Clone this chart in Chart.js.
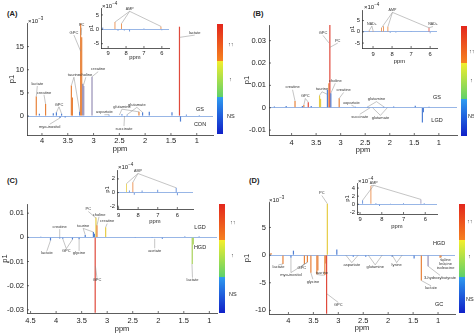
<!DOCTYPE html>
<html>
<head>
<meta charset="utf-8">
<script src="https://cdn.jsdelivr.net/npm/chart.js@4.4.1/dist/chart.umd.min.js"></script>
<style>
  body { margin: 0; width: 474px; height: 333px; background: #fff; position: relative; overflow: hidden;
         font-family: "Liberation Sans", Arial, sans-serif; color: #222; }
  canvas { position: absolute; }
  .tag { position: absolute; font-weight: bold; font-size: 7.5px; line-height: 1; }
  .exp { position: absolute; font-size: 6px; line-height: 1; }
  .exp sup { font-size: 4.5px; }
  .grp { position: absolute; font-size: 5.5px; line-height: 1; transform: translate(-50%, -50%); }
  .cbar { position: absolute; width: 6px;
          background: linear-gradient(to bottom, #e3261c 0%, #f6821f 33.3%, #f4ee2c 33.3%, #5fd06a 66.6%, #2f9cf0 66.6%, #1020c8 100%); }
  .cl { position: absolute; font-size: 5.5px; line-height: 1; transform: translateY(-50%); }
</style>
</head>
<body>
<div class="tag" style="left:7px;top:10px">(A)</div>
<div class="tag" style="left:253px;top:10px">(B)</div>
<div class="tag" style="left:7px;top:177px">(C)</div>
<div class="tag" style="left:249px;top:177px">(D)</div>

<canvas id="mainA"></canvas>
<canvas id="mainB"></canvas>
<canvas id="mainC"></canvas>
<canvas id="mainD"></canvas>
<canvas id="insetA"></canvas>
<canvas id="insetB"></canvas>
<canvas id="insetC"></canvas>
<canvas id="insetD"></canvas>

<div class="exp" style="left:28px;top:17px">×10<sup>−3</sup></div>
<div class="exp" style="left:102px;top:2px">×10<sup>−4</sup></div>
<div class="exp" style="left:364px;top:3px">×10<sup>−4</sup></div>
<div class="exp" style="left:118px;top:163px">×10<sup>−4</sup></div>
<div class="exp" style="left:269px;top:196px">×10<sup>−3</sup></div>
<div class="exp" style="left:358px;top:177px">×10<sup>−4</sup></div>

<div class="grp" style="left:200px;top:110px">GS</div>
<div class="grp" style="left:200px;top:125px">CON</div>
<div class="grp" style="left:437px;top:98px">GS</div>
<div class="grp" style="left:437px;top:121px">LGD</div>
<div class="grp" style="left:200px;top:228px">LGD</div>
<div class="grp" style="left:200px;top:248px">HGD</div>
<div class="grp" style="left:439px;top:244px">HGD</div>
<div class="grp" style="left:439px;top:305px">GC</div>

<div class="cbar" style="left:217px;top:24px;height:110px"></div>
<div class="cl" style="left:228px;top:45px">↑↑</div>
<div class="cl" style="left:229px;top:80px">↑</div>
<div class="cl" style="left:227px;top:117px">NS</div>
<div class="cbar" style="left:461px;top:26px;height:110px"></div>
<div class="cl" style="left:469px;top:52px">↑↑</div>
<div class="cl" style="left:470px;top:81px">↑</div>
<div class="cl" style="left:468px;top:117px">NS</div>
<div class="cbar" style="left:219px;top:204px;height:109px"></div>
<div class="cl" style="left:230px;top:223px">↑↑</div>
<div class="cl" style="left:231px;top:256px">↑</div>
<div class="cl" style="left:229px;top:295px">NS</div>
<div class="cbar" style="left:459px;top:204px;height:109px"></div>
<div class="cl" style="left:467px;top:222px">↑↑</div>
<div class="cl" style="left:468px;top:257px">↑</div>
<div class="cl" style="left:466px;top:300px">NS</div>

<script>
// colour class of each peak: r/o = ↑↑, y/g = ↑, b = NS, p = greyish
const COLORS = { r: "#e04a3c", o: "#e8823a", y: "#e6cc45", g: "#a9d25a", b: "#4f7fd4", p: "#968fb6" };

// (A) GS vs CON, main spectrum (x10^-3)
const ppmA = [4.29, 4.11, 4.05, 3.93, 3.78, 3.72, 3.65, 3.62, 3.55, 3.43, 3.41, 3.27, 3.25, 3.23, 3.21, 3.19, 3.03, 2.70, 2.45, 2.35, 2.12, 2.05, 1.92, 1.48, 1.335, 1.315, 1.20, 0.95];
const valA = [0.2, 4.2, 0.5, 2.6, 0.6, 0.8, -0.4, 0.5, -0.3, 6.6, 4.0, 1.0, 20.0, 17.0, 7.0, 6.5, 8.5, 0.3, 0.4, 0.3, 0.9, 0.8, 0.9, 0.8, 19.3, -1.2, 0.3, 0.2];
const colA = ["b", "o", "b", "o", "b", "b", "b", "b", "b", "o", "o", "b", "o", "o", "p", "p", "p", "b", "b", "b", "o", "b", "b", "b", "r", "b", "b", "b"];
const xTicksA = [4, 3.5, 3, 2.5, 2, 1.5, 1];
const yTicksA = [0, 5, 10, 15];
const notesA = [
  ["lactate", 4.09, 7.0, [[4.11, 4.2]]],
  ["creatine", 3.96, 5.1, [[3.93, 2.6]]],
  ["GPC", 3.67, 2.5, [[3.72, 0.8], [3.62, 0.5]]],
  ["myo-inositol", 3.85, -2.3, [[3.65, -0.4]]],
  ["GPC", 3.38, 18, [[3.25, 14]]],
  ["PC", 3.23, 19.6, [[3.24, 17.5]]],
  ["taurine", 3.38, 8.9, [[3.43, 6.6], [3.27, 1.0]]],
  ["choline", 3.15, 8.9, [[3.2, 6.5]]],
  ["creatine", 2.91, 10.1, [[3.03, 8.5]]],
  ["aspartate", 2.79, 0.8, [[2.7, 0.3]]],
  ["glutamine", 2.45, 2.0, [[2.5, 0.2], [2.12, 0.9]]],
  ["glutamate", 2.16, 2.4, [[2.35, 0.3], [2.05, 0.8]]],
  ["succinate", 2.41, -2.7, [[2.4, 0]]],
  ["lactate", 1.04, 18, [[1.33, 17]]]
];
const ppmAi = [9.3, 8.62, 8.45, 8.25, 8.1, 7.8, 7.0, 6.05, 6.0];
const valAi = [0.6, 2.5, -0.5, 2.0, -0.4, -0.8, 0.3, 1.0, -0.3];
const colAi = ["b", "o", "b", "o", "b", "b", "b", "o", "b"];
const notesAi = [["AMP", 7.8, 7.0, [[8.62, 2.5], [8.25, 2.0], [6.05, 1.0]]]];

// (B) GS vs LGD
const ppmB = [4.35, 4.11, 3.93, 3.78, 3.75, 3.66, 3.6, 3.43, 3.41, 3.27, 3.24, 3.22, 3.20, 3.03, 2.7, 2.45, 2.12, 1.92, 1.48, 1.335, 1.315, 1.2];
const valB = [0.0005, 0.0008, 0.003, 0.0008, 0.0012, 0.0025, 0.0008, 0.0055, 0.004, 0.008, 0.011, 0.037, 0.0065, 0.0042, 0.0004, 0.0004, 0.0004, 0.0006, 0.0009, -0.0066, -0.002, 0.0004];
const colB = ["b", "b", "o", "b", "o", "r", "b", "y", "y", "b", "o", "r", "b", "o", "b", "b", "b", "b", "b", "b", "b", "b"];
const xTicksB = [4, 3.5, 3, 2.5, 2, 1.5, 1];
const yTicksB = [-0.01, 0, 0.01, 0.02, 0.03];
const notesB = [
  ["GPC", 3.36, 0.0334, [[3.24, 0.029]]],
  ["PC", 3.06, 0.030, [[3.22, 0.027]]],
  ["creatine", 3.98, 0.0091, [[3.93, 0.003]]],
  ["GPC", 3.72, 0.0052, [[3.75, 0.0012], [3.66, 0.0025]]],
  ["taurine", 3.38, 0.0082, [[3.43, 0.0055], [3.27, 0.006]]],
  ["choline", 3.11, 0.012, [[3.2, 0.0065]]],
  ["creatine", 2.94, 0.0079, [[3.03, 0.0042]]],
  ["aspartate", 2.78, 0.0022, [[2.72, 0.0005]]],
  ["glutamine", 2.27, 0.0038, [[2.45, 0.0004], [2.12, 0.0004]]],
  ["succinate", 2.61, -0.004, [[2.4, 0]]],
  ["glutamate", 2.19, -0.0045, [[2.35, 0], [2.05, 0]]]
];
const ppmBi = [9.2, 9.0, 8.55, 8.45, 8.22, 8.1, 7.8, 7.0, 6.06, 6.0];
const valBi = [0.6, 0.5, 1.8, 2.5, 2.2, -0.5, -0.4, 0.3, 1.8, -0.6];
const colBi = ["o", "o", "o", "o", "o", "b", "b", "b", "r", "b"];
const notesBi = [
  ["NAD+", 9.06, 3.5, [[9.2, 0.6], [9.0, 0.5]]],
  ["AMP", 7.98, 9.6, [[8.55, 1.8], [8.22, 2.2], [6.06, 1.8]]],
  ["NAD+", 5.85, 3.3, [[6.06, 1.8]]]
];

// (C) LGD vs HGD
const ppmC = [4.3, 4.11, 3.93, 3.87, 3.68, 3.55, 3.43, 3.27, 3.25, 3.22, 3.20, 3.235, 3.03, 2.45, 2.12, 1.92, 1.48, 1.335, 1.315, 1.2];
const valC = [0.0003, -0.0013, -0.0005, -0.0006, -0.0009, -0.0008, 0.001, 0.0022, 0.0015, 0.0082, 0.005, -0.0312, 0.0042, -0.0003, -0.0003, -0.0006, 0.0004, -0.011, -0.003, 0.0004];
const colC = ["b", "b", "b", "b", "b", "b", "b", "b", "b", "y", "o", "r", "y", "b", "b", "b", "b", "g", "g", "b"];
const xTicksC = [4.5, 4, 3.5, 3, 2.5, 2, 1.5, 1];
const yTicksC = [-0.03, -0.02, -0.01, 0, 0.01];
const notesC = [
  ["PC", 3.37, 0.0117, [[3.22, 0.008]]],
  ["choline", 3.16, 0.0095, [[3.2, 0.005]]],
  ["creatine", 3.0, 0.0067, [[3.03, 0.0042]]],
  ["taurine", 3.47, 0.0047, [[3.43, 0.001], [3.27, 0.0022]]],
  ["creatine", 3.93, 0.0044, [[3.93, 0]]],
  ["lactate", 4.18, -0.0066, [[4.11, -0.0013]]],
  ["GPC", 3.8, -0.0057, [[3.87, -0.0006], [3.68, -0.0009]]],
  ["glycine", 3.55, -0.0066, [[3.55, -0.0008]]],
  ["acetate", 2.07, -0.0055, [[2.07, -0.0006]]],
  ["GPC", 3.2, -0.0177, [[3.23, -0.012]]],
  ["lactate", 1.33, -0.0177, [[1.34, -0.011]]]
];
const ppmCi = [8.6, 8.45, 8.27, 8.2, 7.8, 7.0, 6.06, 6.0];
const valCi = [1.3, 0.3, 1.5, -0.3, 0.3, 0.4, 0.7, -0.4];
const colCi = ["y", "b", "o", "b", "b", "b", "b", "b"];
const notesCi = [["AMP", 8.01, 3.1, [[8.6, 1.3], [8.27, 1.5], [6.06, 0.7]]]];

// (D) HGD vs GC (x10^-3)
const ppmD = [4.35, 4.11, 3.95, 3.9, 3.68, 3.62, 3.55, 3.43, 3.41, 3.27, 3.25, 3.22, 3.235, 3.03, 2.7, 2.45, 1.92, 1.48, 1.335, 1.2, 0.96, 0.94];
const valD = [0.4, -1.6, -0.5, 0.8, -1.6, -1.3, -3.2, -3.5, -2.8, -3.6, -1.5, 9.3, -10.6, 1.0, -0.3, -0.3, -0.3, -0.6, -4.6, -2.0, -0.5, -0.4];
const colD = ["o", "o", "b", "b", "o", "o", "o", "o", "o", "o", "o", "y", "r", "b", "b", "b", "b", "b", "o", "p", "o", "o"];
const xTicksD = [4, 3.5, 3, 2.5, 2, 1.5, 1];
const yTicksD = [-10, -5, 0, 5];
const notesD = [
  ["PC", 3.33, 11.2, [[3.22, 9.3]]],
  ["lactate", 4.2, -2.2, [[4.11, -1.6]]],
  ["myo-inositol", 3.95, -3.6, [[3.95, -0.5], [3.62, -1.3]]],
  ["GPC", 3.73, -2.4, [[3.68, -1.6], [3.62, -1.3]]],
  ["glycine", 3.51, -4.8, [[3.55, -3.2]]],
  ["taurine", 3.33, -3.2, [[3.43, -3.5], [3.27, -3.6]]],
  ["GPC", 3.0, -9.0, [[3.23, -7.0]]],
  ["aspartate", 2.73, -1.8, [[2.85, 0], [2.6, 0]]],
  ["glutamine", 2.26, -2.2, [[2.4, 0], [2.12, 0]]],
  ["lysine", 1.83, -1.8, [[1.92, 0], [1.72, 0]]],
  ["valine", 0.85, -0.9, []],
  ["leucine", 0.85, -1.6, []],
  ["isoleucine", 0.85, -2.3, [[0.95, -0.4]]],
  ["3-hydroxybutyrate", 0.96, -4.1, [[1.2, -2.0]]],
  ["lactate", 1.14, -6.0, [[1.335, -4.6]]]
];
const ppmDi = [8.88, 8.5, 8.27, 8.1, 7.6, 7.0, 6.2, 6.05];
const valDi = [1.0, 4.6, 0.3, -0.4, 0.2, 0.3, 1.2, 0.3];
const colDi = ["b", "o", "b", "b", "b", "b", "p", "b"];
const notesDi = [["AMP", 8.37, 5.2, [[8.88, 1.0], [8.5, 4.6], [6.2, 1.2]]]];

const insetXTicks = [9, 8, 7, 6];

Chart.defaults.font.family = '"Liberation Sans", Arial, sans-serif';

// metabolite labels with leader lines, placed in data units
Chart.register({
  id: "notes",
  afterDatasetsDraw(chart, args, opts) {
    const { ctx, scales: { x, y } } = chart;
    ctx.save();
    ctx.font = opts.size + 'px "Liberation Sans", Arial, sans-serif';
    ctx.fillStyle = "#333";
    ctx.strokeStyle = "#8a8a8a";
    ctx.lineWidth = 0.5;
    ctx.textAlign = "center";
    ctx.textBaseline = "middle";
    (opts.items || []).forEach(([txt, px, py, targets]) => {
      const tx = x.getPixelForValue(px), ty = y.getPixelForValue(py);
      targets.forEach(([ax, ay]) => {
        const gx = x.getPixelForValue(ax), gy = y.getPixelForValue(ay);
        const sy = gy > ty ? ty + opts.size * 0.6 : ty - opts.size * 0.6;
        ctx.beginPath();
        ctx.moveTo(tx, sy);
        ctx.lineTo(gx, gy);
        ctx.stroke();
      });
      ctx.fillText(txt, tx, ty);
    });
    ctx.restore();
  },
  // short inward tick marks, as in the original figure
  afterDraw(chart) {
    const { ctx, chartArea: a, scales: { x, y } } = chart;
    ctx.save();
    ctx.strokeStyle = "#333";
    ctx.lineWidth = 0.7;
    ctx.beginPath();
    x.ticks.forEach((t) => {
      const px = x.getPixelForValue(t.value);
      ctx.moveTo(px, a.bottom);
      ctx.lineTo(px, a.bottom - 2);
    });
    y.ticks.forEach((t) => {
      const py = y.getPixelForValue(t.value);
      ctx.moveTo(a.left, py);
      ctx.lineTo(a.left + 2, py);
    });
    ctx.stroke();
    ctx.restore();
  }
});

function spectrum(id, g, ppm, vals, cats, xTicks, yTicks, notes) {
  const cv = document.getElementById(id);
  const pr = 3;
  const W = Math.round(g.r - g.l + g.yw + pr);
  const H = Math.round(g.b - g.t + g.pt + g.xh);
  cv.width = W;
  cv.height = H;
  cv.style.left = Math.round(g.l - g.yw) + "px";
  cv.style.top = Math.round(g.t - g.pt) + "px";
  const fs = g.fs;

  new Chart(cv.getContext("2d"), {
    type: "bar",
    data: {
      datasets: [{
        data: ppm.map((x, i) => ({ x: x, y: vals[i] })),
        backgroundColor: cats.map((c) => COLORS[c]),
        borderWidth: 0,
        inflateAmount: 0,
        barThickness: g.bw
      }]
    },
    options: {
      responsive: false,
      animation: false,
      events: [],
      layout: { padding: { left: 0, top: g.pt, right: pr, bottom: 0 } },
      plugins: {
        legend: { display: false },
        tooltip: { enabled: false },
        notes: { items: notes, size: g.ns }
      },
      scales: {
        x: {
          type: "linear", reverse: true, min: g.xr[0], max: g.xr[1], offset: false,
          grid: { display: false, drawTicks: false, offset: false },
          border: { display: true, color: "#333", width: 0.8 },
          ticks: { font: { size: fs }, color: "#222", padding: g.tp, maxRotation: 0, autoSkip: false, callback: (v) => String(v) },
          title: { display: true, text: "ppm", font: { size: fs }, color: "#222", padding: { top: 0, bottom: g.xpb } },
          afterBuildTicks: (s) => { s.ticks = xTicks.map((v) => ({ value: v })); },
          afterFit: (s) => { s.height = g.xh; s.paddingLeft = 0; s.paddingRight = 0; }
        },
        y: {
          type: "linear", min: g.yr[0], max: g.yr[1],
          grid: {
            drawTicks: false,
            lineWidth: 0.8,
            color: (c) => (c.tick && c.tick.value === 0 ? "#7ea3e0" : "rgba(0,0,0,0)")
          },
          border: { display: true, color: "#333", width: 0.8 },
          ticks: { font: { size: fs }, color: "#222", padding: g.ytp, callback: (v) => String(v) },
          title: { display: true, text: "p1", font: { size: fs }, color: "#222", padding: { top: g.ypt, bottom: 0 } },
          afterBuildTicks: (s) => { s.ticks = yTicks.map((v) => ({ value: v })); },
          afterFit: (s) => { s.width = g.yw; s.paddingTop = 0; s.paddingBottom = 0; }
        }
      }
    }
  });
}

const mainGeo = { yw: 27, pt: 14, fs: 7.5, ns: 4, bw: 1.2, ytp: 3 };
const insetGeo = { yw: 14, pt: 6, fs: 5.8, ns: 3.6, bw: 0.8, ypt: 1, tp: 1.5, ytp: 2 };

spectrum("mainA", { ...mainGeo, l: 27, t: 23, r: 213, b: 135, xh: 20, ypt: 7.5, xpb: 1.5, tp: 1.5, xr: [0.685, 4.29], yr: [-4.1, 20.1] },
  ppmA, valA, colA, xTicksA, yTicksA, notesA);
spectrum("mainB", { ...mainGeo, l: 269, t: 25, r: 457, b: 135, xh: 20, ypt: 0.5, xpb: 0.5, tp: 3, xr: [0.63, 4.46], yr: [-0.0122, 0.037] },
  ppmB, valB, colB, xTicksB, yTicksB, notesB);
spectrum("mainC", { ...mainGeo, l: 27, t: 204, r: 217, b: 313, xh: 20, ypt: 0.5, xpb: 0, tp: 3, xr: [0.85, 4.57], yr: [-0.0313, 0.0138] },
  ppmC, valC, colC, xTicksC, yTicksC, notesC);
spectrum("mainD", { ...mainGeo, l: 269, t: 202, r: 455, b: 314, xh: 19, ypt: 0.5, xpb: 0.2, tp: 2.5, xr: [0.66, 4.39], yr: [-10.65, 9.6] },
  ppmD, valD, colD, xTicksD, yTicksD, notesD);

spectrum("insetA", { ...insetGeo, l: 101, t: 8, r: 169, b: 48, xh: 14, xpb: 0.9, xr: [5.6, 9.4], yr: [-6.5, 7.4] },
  ppmAi, valAi, colAi, insetXTicks, [-5, 0, 5], notesAi);
spectrum("insetB", { ...insetGeo, l: 362, t: 10, r: 437, b: 48, xh: 17, xpb: 0.4, tp: 3, xr: [5.64, 9.58], yr: [-7.2, 9.7] },
  ppmBi, valBi, colBi, insetXTicks, [-5, 0, 5], notesBi);
spectrum("insetC", { ...insetGeo, l: 117, t: 170, r: 193, b: 209, xh: 16, xpb: 0, tp: 3, xr: [5.2, 9.08], yr: [-2.4, 3.3] },
  ppmCi, valCi, colCi, insetXTicks, [-2, 0, 2], notesCi);
spectrum("insetD", { ...insetGeo, l: 357, t: 183, r: 437, b: 214, xh: 16, xpb: 0, tp: 2, xr: [5.46, 9.14], yr: [-2.4, 5.25] },
  ppmDi, valDi, colDi, insetXTicks, [-2, 0, 2, 4], notesDi);
</script>
</body>
</html>
